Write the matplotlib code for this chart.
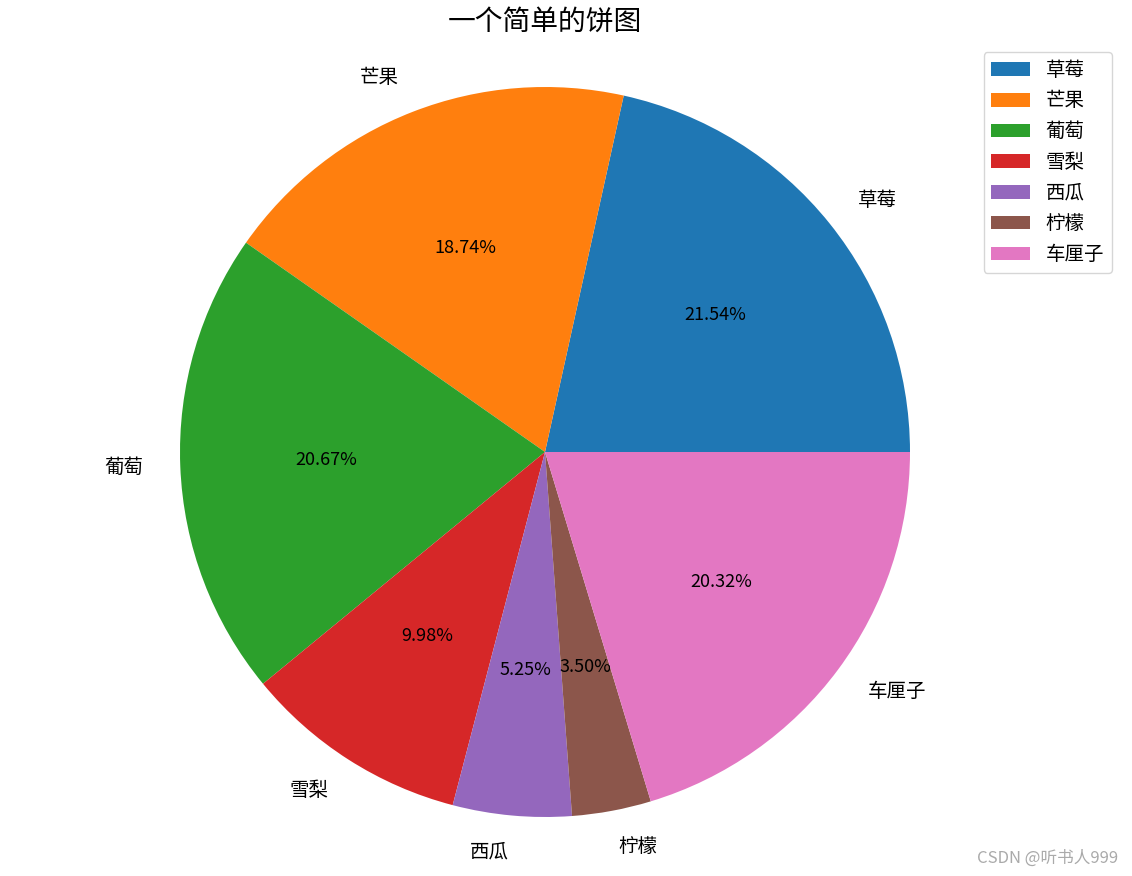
import matplotlib
matplotlib.use("Agg")
import matplotlib.pyplot as plt

plt.rcParams['font.family'] = ['Noto Sans CJK SC', 'DejaVu Sans']
plt.rcParams['axes.unicode_minus'] = False

# 数据
labels = ['草莓', '芒果', '葡萄', '雪梨', '西瓜', '柠檬', '车厘子']
values = [21.54, 18.74, 20.67, 9.98, 5.25, 3.50, 20.32]

W, H = 1132, 876
fig = plt.figure(figsize=(W / 100, H / 100), dpi=100)

cx, cy, r = 545, 452, 365  # pie centre and radius in pixels
ax = fig.add_axes([(cx - r) / W, 1 - (cy + r) / H, 2 * r / W, 2 * r / H])

wedges, texts, autotexts = ax.pie(values, labels=labels, autopct='%.2f%%',
                                  textprops={'fontsize': 14})
for t in autotexts:
    t.set_fontsize(13)
ax.set_xlim(-1, 1)
ax.set_ylim(-1, 1)
ax.axis('off')

fig.text(cx / W, 1 - 22 / H, '一个简单的饼图', fontsize=20, ha='center', va='center')
fig.legend(wedges, labels, loc='upper right', fontsize=14,
           bbox_to_anchor=(1112 / W, 1 - 52 / H), borderaxespad=0)
fig.text(1118 / W, 1 - 858 / H, 'CSDN @听书人999', fontsize=12, color='#aaaaaa',
         ha='right', va='center')

fig.savefig('out.png', dpi=100)
